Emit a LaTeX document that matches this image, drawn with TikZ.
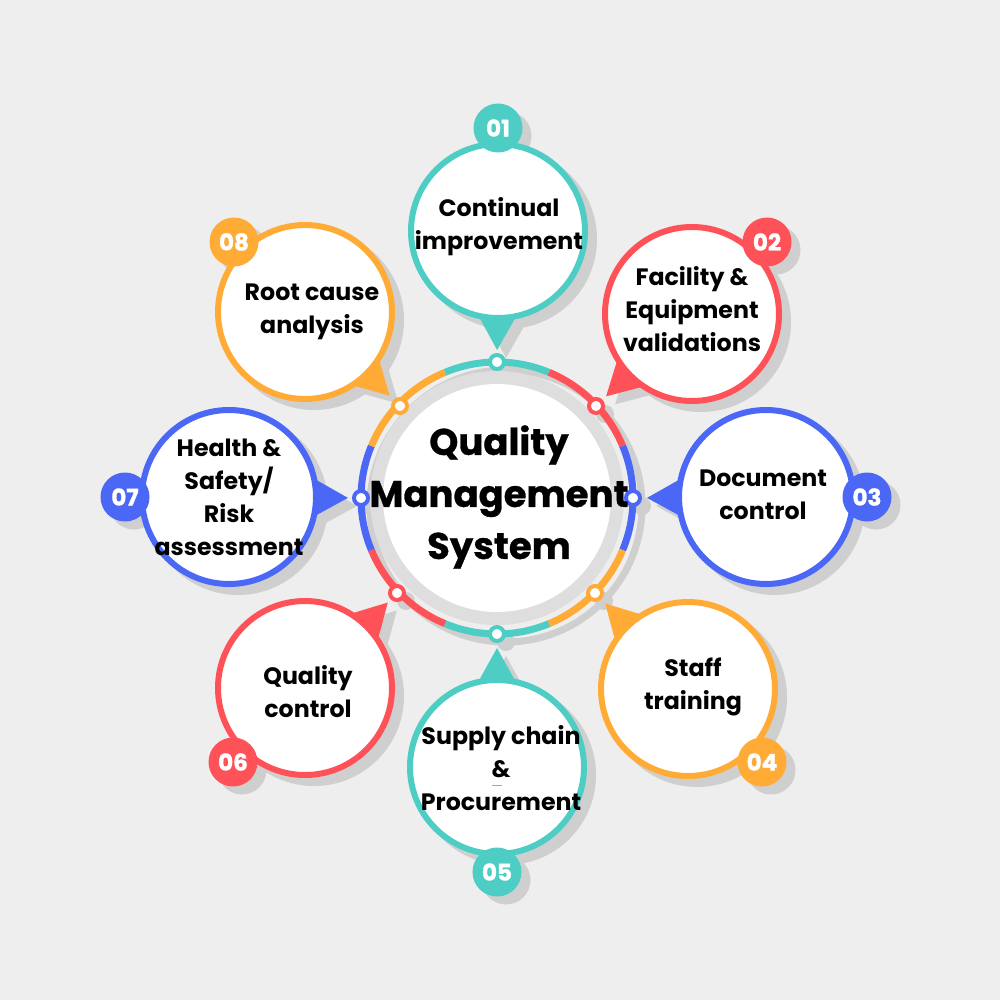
\documentclass[tikz,border=0pt]{standalone}
\usepackage{fontspec}
\setmainfont{Poppins}
\newfontfamily\heavyfont{Poppins}[UprightFont=* Bold, FakeBold=1.3]
\newfontfamily\titlefont{Poppins}[UprightFont=* Bold, FakeBold=0.8]
\usetikzlibrary{calc}
\definecolor{bgc}{HTML}{EEEEEE}
\definecolor{shd}{HTML}{CFCFCF}
\definecolor{cteal}{HTML}{4ECDC4}
\definecolor{cred}{HTML}{FF5258}
\definecolor{cblue}{HTML}{4A68F5}
\definecolor{corange}{HTML}{FFAB35}
\definecolor{innergrey}{HTML}{DEDEDE}
\begin{document}
\begin{tikzpicture}[x=1pt,y=-1pt,
  bubble/.style={circle, draw=#1, fill=white, line width=6pt, minimum size=174pt, inner sep=0pt},
  badge/.style={circle, fill=#1, minimum size=49pt, inner sep=0pt, text=white, font=\fontsize{23}{23}\selectfont\heavyfont},
  lbl/.style={align=center, font=\fontsize{23.7}{33}\selectfont\bfseries, text=black, inner sep=0pt},
  ringdot/.style={circle, draw=#1, fill=white, line width=4pt, minimum size=14pt, inner sep=0pt},
  seg/.style={draw=#1, line width=7pt},
  ptr/.style={fill=#1}]
% canvas
\fill[bgc] (0,0) rectangle (1000,1000);
\useasboundingbox (0,0) rectangle (1000,1000);
% key coordinates
\coordinate (O) at (497,498);
\coordinate (p1) at (498,231);
\coordinate (p2) at (692,314);
\coordinate (p3) at (766,497);
\coordinate (p4) at (688,689);
\coordinate (p5) at (497,767);
\coordinate (p6) at (305,688);
\coordinate (p7) at (229,497);
\coordinate (p8) at (305,312);
\coordinate (d1) at (497,362);
\coordinate (d2) at (596,406);
\coordinate (d3) at (633,498);
\coordinate (d4) at (595,593);
\coordinate (d5) at (497,634);
\coordinate (d6) at (397,593);
\coordinate (d7) at (361,498);
\coordinate (d8) at (400,406);
\coordinate (q1) at (498,128);
\coordinate (q2) at (767,242);
\coordinate (q3) at (867,497);
\coordinate (q4) at (762,762);
\coordinate (q5) at (497,872);
\coordinate (q6) at (233,762);
\coordinate (q7) at (125,497);
\coordinate (q8) at (234,242);
% shadows
\begin{scope}[transform canvas={shift={(9,8)}}]
  \draw[shd, line width=7pt] (O) circle (136);
  \foreach \i in {1,...,8}{
    \fill[shd] ($(p\i)!119pt!(d\i)$) -- ($(p\i)!88pt!12:(d\i)$) -- (p\i) -- ($(p\i)!88pt!-12:(d\i)$) -- cycle;
    \fill[shd] (p\i) circle (90);
    \fill[shd] (q\i) circle (24.5);
    \fill[shd] (d\i) circle (9);
  }
\end{scope}
% inner disc
\fill[innergrey] (O) circle (127);
\node[circle, fill=white, minimum size=228pt, inner sep=0pt] (core) at (O) {};
% ring segments
\draw[seg=cteal]   (O) ++(-112.5:136) arc[start angle=-112.5, end angle=-67.5, radius=136];
\draw[seg=cred]    (O) ++(-67.5:136)  arc[start angle=-67.5,  end angle=-22.5, radius=136];
\draw[seg=cblue]   (O) ++(-22.5:136)  arc[start angle=-22.5,  end angle=22.5,  radius=136];
\draw[seg=corange] (O) ++(22.5:136)   arc[start angle=22.5,   end angle=67.5,  radius=136];
\draw[seg=cteal]   (O) ++(67.5:136)   arc[start angle=67.5,   end angle=112.5, radius=136];
\draw[seg=cred]    (O) ++(112.5:136)  arc[start angle=112.5,  end angle=157.5, radius=136];
\draw[seg=cblue]   (O) ++(157.5:136)  arc[start angle=157.5,  end angle=202.5, radius=136];
\draw[seg=corange] (O) ++(202.5:136)  arc[start angle=202.5,  end angle=247.5, radius=136];
% pointers
\foreach \i/\c in {1/cteal,2/cred,3/cblue,4/corange,5/cteal,6/cred,7/cblue,8/corange}{
  \fill[ptr=\c] ($(p\i)!119pt!(d\i)$) -- ($(p\i)!88pt!12:(d\i)$) -- (p\i) -- ($(p\i)!88pt!-12:(d\i)$) -- cycle;
}
% bubbles
\node[bubble=cteal]   (c1) at (p1) {};
\node[bubble=cred]    (c2) at (p2) {};
\node[bubble=cblue]   (c3) at (p3) {};
\node[bubble=corange] (c4) at (p4) {};
\node[bubble=cteal]   (c5) at (p5) {};
\node[bubble=cred]    (c6) at (p6) {};
\node[bubble=cblue]   (c7) at (p7) {};
\node[bubble=corange] (c8) at (p8) {};
% badges
\node[badge=cteal]   (b1) at (q1) {01};
\node[badge=cred]    (b2) at (q2) {02};
\node[badge=cblue]   (b3) at (q3) {03};
\node[badge=corange] (b4) at (q4) {04};
\node[badge=cteal]   (b5) at (q5) {05};
\node[badge=cred]    (b6) at (q6) {06};
\node[badge=cblue]   (b7) at (q7) {07};
\node[badge=corange] (b8) at (q8) {08};
% ring dots
\node[ringdot=cteal]   (r1) at (d1) {};
\node[ringdot=cred]    (r2) at (d2) {};
\node[ringdot=cblue]   (r3) at (d3) {};
\node[ringdot=corange] (r4) at (d4) {};
\node[ringdot=cteal]   (r5) at (d5) {};
\node[ringdot=cred]    (r6) at (d6) {};
\node[ringdot=cblue]   (r7) at (d7) {};
\node[ringdot=corange] (r8) at (d8) {};
% labels
\node[lbl] (t1) at (499,227) {Continual\\improvement};
\node[lbl] (t2) at (692,309) {Facility \&\\Equipment\\validations};
\node[lbl] (t3) at (763,495) {Document\\control};
\node[lbl] (t4) at (693,687) {Staff\\training};
\node[lbl] (t5) at (501,768) {Supply chain\\\&\\Procurement};
\node[lbl] (t6) at (308,692) {Quality\\control};
\node[lbl] (t7) at (229,497) {Health \&\\Safety/\\Risk\\assessment};
\node[lbl] (t8) at (312,312) {Root cause\\analysis};
\draw[cteal, line width=1pt] (492,785) -- (502,785);
\node[align=center, font=\fontsize{37}{52}\selectfont\titlefont, inner sep=0pt] (title) at (499,497) {Quality\\Management\\System};
\end{tikzpicture}
\end{document}
